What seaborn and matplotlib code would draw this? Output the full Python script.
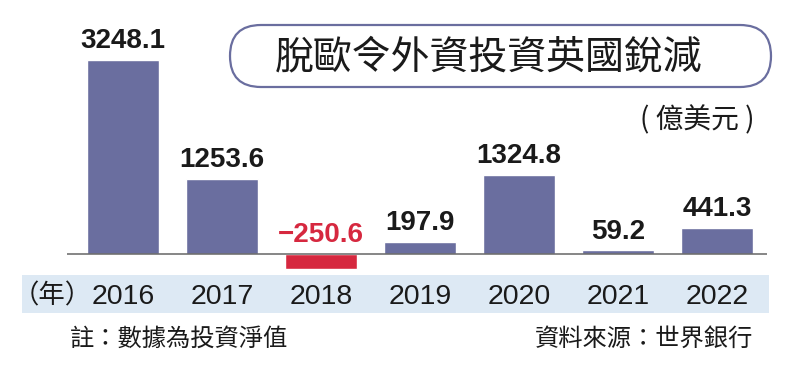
import matplotlib
matplotlib.use("Agg")
import matplotlib.pyplot as plt
import seaborn as sns
import pandas as pd
from matplotlib.patches import FancyBboxPatch, Rectangle
from matplotlib.transforms import IdentityTransform, blended_transform_factory

# ---- data ----
years = ["2016", "2017", "2018", "2019", "2020", "2021", "2022"]
values = [3248.1, 1253.6, -250.6, 197.9, 1324.8, 59.2, 441.3]
title = "脫歐令外資投資英國銳減"
unit = "( 億美元 )"
year_prefix = "（年）"
note_left = "註：數據為投資淨值"
note_right = "資料來源：世界銀行"

BLUE = "#6a6e9f"
RED = "#d6283f"
W, H = 800, 374

sns.set_theme(style="white")
plt.rcParams["font.family"] = ["Liberation Sans", "Noto Sans CJK TC", "DejaVu Sans"]
CJK = ["Noto Sans CJK TC", "DejaVu Sans"]
NUM = ["Liberation Sans", "Noto Sans CJK TC"]

fig = plt.figure(figsize=(W / 100, H / 100), dpi=100)
fig.patch.set_facecolor("white")

# axes spanning x 67..767 px, full height
ax = fig.add_axes([67 / W, 0, 700 / W, 1])
ax.set_facecolor("none")

df = pd.DataFrame({"year": years, "value": values})
colors = {y: (RED if v < 0 else BLUE) for y, v in zip(years, values)}
sns.barplot(data=df, x="year", y="value", hue="year", palette=colors,
            legend=False, width=0.727, saturation=1, ax=ax, zorder=2)

ax.set_xlim(-0.566, 6.505)
ax.set_ylim(-2009, 4252)
for s in ax.spines.values():
    s.set_visible(False)
ax.set_xticks([])
ax.set_yticks([])
ax.set_xlabel("")
ax.set_ylabel("")
ax.axhline(0, color="#666666", lw=1.1, zorder=3)

# value labels
for i, v in enumerate(values):
    lab = f"{v:.1f}".replace("-", "−")
    ax.annotate(lab, xy=(i, max(v, 0)), xytext=(0, 8.5), textcoords="offset points",
                ha="center", va="baseline", fontsize=20, fontweight="bold",
                color=(RED if v < 0 else "#1a1a1a"), family=NUM)

# light blue band for years
fig.patches.append(Rectangle((22 / W, 1 - 313 / H), (769 - 22) / W, 38 / H,
                             transform=fig.transFigure, facecolor="#dde9f4",
                             edgecolor="none", zorder=-1))
trans = blended_transform_factory(ax.transData, fig.transFigure)
for i, y in enumerate(years):
    ax.text(i, 1 - 297 / H, y, transform=trans, ha="center", va="center",
            fontsize=20.5, color="#1a1a1a", family=NUM)
fig.text(52 / W, 1 - 296 / H, year_prefix, ha="center", va="center",
         fontsize=19, color="#1a1a1a", family=CJK)

# title box
box = FancyBboxPatch((230, H - 87), 541, 62, boxstyle="round,pad=0,rounding_size=31",
                     transform=IdentityTransform(), facecolor="white",
                     edgecolor=BLUE, lw=1.6)
fig.patches.append(box)
fig.text(489 / W, 1 - 57 / H, title, ha="center", va="center", fontsize=28,
         fontweight="medium", color="#1a1a1a", family=CJK)

fig.text(697 / W, 1 - 120 / H, unit, ha="center", va="center", fontsize=20,
         color="#1a1a1a", family=CJK)

fig.text(70 / W, 1 - 339 / H, note_left, ha="left", va="center", fontsize=17.5,
         color="#1a1a1a", family=CJK)
fig.text(753 / W, 1 - 339 / H, note_right, ha="right", va="center", fontsize=17.5,
         color="#1a1a1a", family=CJK)

fig.savefig("out.png", dpi=100, facecolor="white")
